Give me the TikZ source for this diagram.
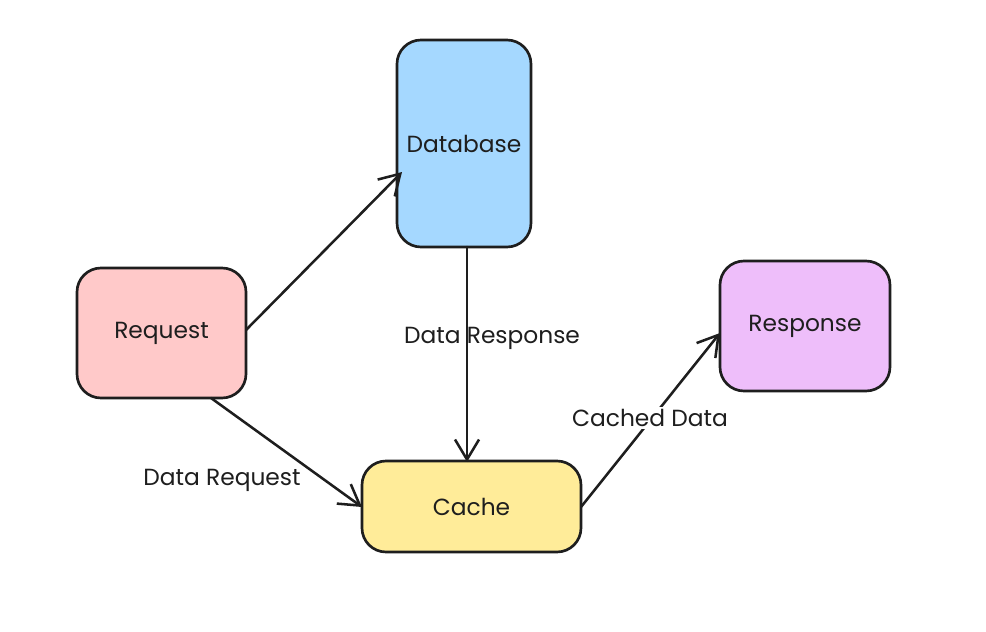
\documentclass[tikz,border=0pt]{standalone}
\usepackage{fontspec}
\setmainfont{Poppins}
\usetikzlibrary{arrows.meta}
\definecolor{cblue}{HTML}{A5D8FF}
\definecolor{cpink}{HTML}{FFC9C9}
\definecolor{cyellow}{HTML}{FFEC99}
\definecolor{cpurple}{HTML}{EEBEFA}
\definecolor{ink}{HTML}{1E1E1E}
\tikzset{
  box/.style={draw=ink, line width=2pt, rounded corners=18pt, inner sep=0pt, font=\fontsize{17.5}{20}\selectfont, text=ink},
  conn/.style={draw=ink, line width=1.9pt, line cap=round, -{Straight Barb[length=15pt,width=18pt,line width=1.9pt]}},
  lbl/.style={font=\fontsize{17.5}{20}\selectfont, text=ink, inner sep=2pt}
}
\begin{document}
\begin{tikzpicture}[x=0.75pt,y=-0.75pt]
\useasboundingbox (0,0) rectangle (986,632);
\fill[white] (0,0) rectangle (986,632);
\node[box, fill=cblue, minimum width=134*0.75pt, minimum height=207*0.75pt] (db) at (464,143.5) {Database};
\node[box, fill=cpink, minimum width=169*0.75pt, minimum height=130*0.75pt] (req) at (161.5,333) {Request};
\node[box, fill=cpurple, minimum width=170*0.75pt, minimum height=130*0.75pt] (resp) at (805,326) {Response};
\node[box, fill=cyellow, minimum width=219*0.75pt, minimum height=91*0.75pt] (cache) at (471.5,506.5) {Cache};
\coordinate (reqE) at (246,330);
\coordinate (dbW) at (402,172);
\coordinate (dbS) at (467,247);
\coordinate (cacheN) at (467,462);
\coordinate (reqS) at (211,398);
\coordinate (cacheW) at (362,507);
\coordinate (cacheE) at (581,507);
\coordinate (respW) at (720,333);
\draw[conn] (reqE) -- (dbW);
\draw[conn] (dbS) -- (cacheN);
\node[lbl] (lresp) at (492,338) {Data Response};
\draw[conn] (reqS) -- (cacheW);
\node[lbl] (lreq) at (222,480) {Data Request};
\draw[conn] (cacheE) -- (respW);
\node[lbl, fill=white] (lcached) at (650,418) {Cached Data};
\end{tikzpicture}
\end{document}
